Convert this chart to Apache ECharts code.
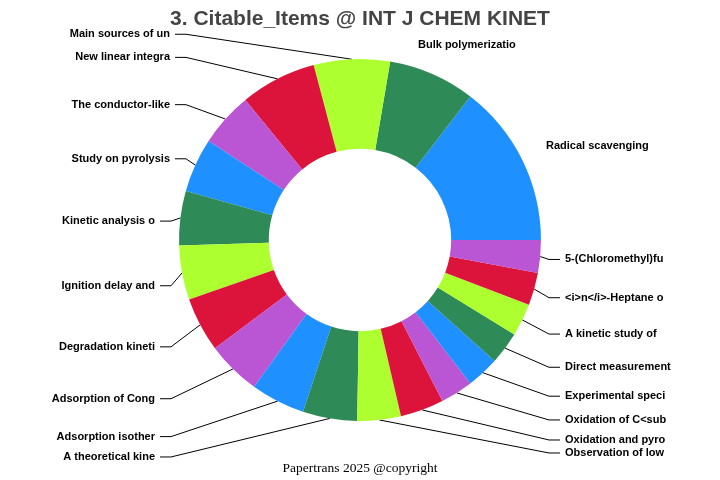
<!DOCTYPE html>
<html>
<head>
<meta charset="utf-8">
<script src="https://cdn.jsdelivr.net/npm/echarts@6/dist/echarts.min.js"></script>
<style>
  html, body { margin: 0; padding: 0; background: #fff; }
  #main { width: 720px; height: 480px; }
</style>
</head>
<body>
<div id="main"></div>
<script>
// paper titles (cut to 18 chars as in the chart) and their citable item counts
var titles = [
    'Radical scavenging', 'Bulk polymerizatio', 'Main sources of un', 'New linear integra',
    'The conductor-like', 'Study on pyrolysis', 'Kinetic analysis o', 'Ignition delay and',
    'Degradation kineti', 'Adsorption of Cong', 'Adsorption isother', 'A theoretical kine',
    'Observation of low', 'Oxidation and pyro', 'Oxidation of C<sub', 'Experimental speci',
    'Direct measurement', 'A kinetic study of', '<i>n</i>-Heptane o', '5-(Chloromethyl)fu'
];
var counts = [15, 8, 7, 7, 5, 5, 5, 5, 5, 5, 5, 5, 4, 4, 3, 3, 3, 3, 3, 3];

var palette = ['#1E90FF', '#2E8B57', '#ADFF2F', '#DC143C', '#BA55D3'];

var pieData = [];
for (var i = 0; i < titles.length; i++) {
    pieData.push({ name: titles[i], value: counts[i] });
}

// label columns (px) - right side text starts at rightCol, left side text ends at leftCol*
var rightCol = 565;
var leftColTop = 170;
var leftColBottom = 155;
var lineGap = 5, elbow = 11;
// the two big slices at the top right have free standing labels
var freeLabelX = { 0: 546, 1: 418 };

var chart = echarts.init(document.getElementById('main'));
var cx = 360, cy = 240;

chart.setOption({
    color: palette,
    animation: false,
    title: [
        {
            text: '3. Citable_Items @ INT J CHEM KINET',
            left: 'center',
            top: 4,
            textStyle: { fontFamily: 'Liberation Sans', fontSize: 21, fontWeight: 'bold', color: '#444' }
        },
        {
            text: 'Papertrans 2025 @copyright',
            left: 'center',
            top: 456,
            textStyle: { fontFamily: 'Liberation Serif', fontSize: 13.5, fontWeight: 'normal', color: '#000' }
        }
    ],
    series: [{
        type: 'pie',
        center: ['50%', '50%'],
        radius: ['38%', '75.4%'],
        startAngle: 0,
        clockwise: false,
        avoidLabelOverlap: true,
        label: {
            show: true,
            alignTo: 'labelLine',
            color: '#000',
            fontFamily: 'Liberation Sans',
            fontSize: 11,
            fontWeight: 'bold'
        },
        labelLine: {
            show: true,
            length: 32,
            length2: 8,
            lineStyle: { color: '#000', width: 1 }
        },
        labelLayout: function (p) {
            var pts = p.labelLinePoints;
            var y = p.labelRect.y + p.labelRect.height / 2;
            var edge = pts ? pts[0] : [cx, cy];
            if (freeLabelX[p.dataIndex] != null) {
                return {
                    x: freeLabelX[p.dataIndex], y: y, align: 'left', verticalAlign: 'middle',
                    labelLinePoints: [edge, edge, edge]
                };
            }
            if (edge[0] >= cx) {
                return {
                    x: rightCol, y: y, align: 'left', verticalAlign: 'middle',
                    labelLinePoints: [edge, [rightCol - lineGap - elbow, y], [rightCol - lineGap, y]]
                };
            }
            y += 7;
            var lx = y < cy - 50 ? leftColTop : leftColBottom;
            return {
                x: lx, y: y, align: 'right', verticalAlign: 'middle',
                labelLinePoints: [edge, [lx + lineGap + elbow, y], [lx + lineGap, y]]
            };
        },
        data: pieData
    }]
});
</script>
</body>
</html>
